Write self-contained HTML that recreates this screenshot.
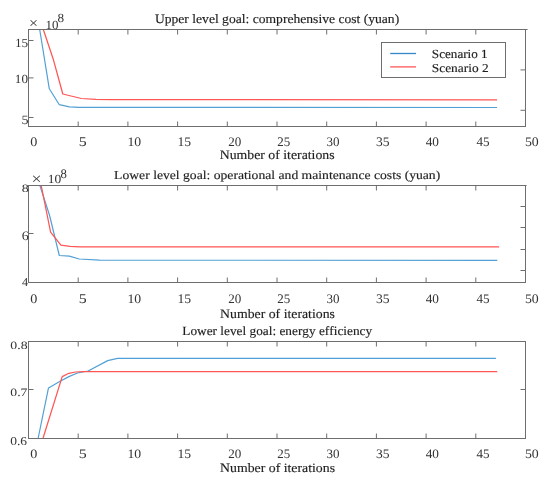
<!DOCTYPE html>
<html><head><meta charset="utf-8"><title>Convergence curves</title>
<style>
html,body{margin:0;padding:0;background:#fff;}
body{width:550px;height:481px;overflow:hidden;}
svg{display:block;}
text{font-family:"Liberation Serif", serif;font-kerning:none;text-rendering:geometricPrecision;}
.t{fill:#1f1f1f;stroke:#1f1f1f;stroke-width:0.15px;}
.n{fill:#333333;}
</style></head>
<body>
<svg width="550" height="481" viewBox="0 0 550 481">
<rect width="550" height="481" fill="#ffffff"/>
<polyline points="39.70,29.50 49.30,88.80 59.30,104.70 69.40,106.80 79.30,107.30 497.10,107.50" fill="none" stroke="#52a0d5" stroke-width="1.2" stroke-linejoin="round"/>
<polyline points="43.30,29.50 53.10,58.70 62.80,94.00 81.30,98.50 96.00,99.30 111.80,99.70 497.10,99.80" fill="none" stroke="#ff5555" stroke-width="1.25" stroke-linejoin="round"/>
<polyline points="39.90,185.50 49.60,215.50 59.30,255.50 69.30,256.20 79.30,259.00 99.60,260.20 497.30,260.30" fill="none" stroke="#52a0d5" stroke-width="1.2" stroke-linejoin="round"/>
<polyline points="41.20,185.50 50.60,232.20 60.90,245.10 69.90,246.40 80.00,246.80 499.10,246.80" fill="none" stroke="#ff5555" stroke-width="1.25" stroke-linejoin="round"/>
<polyline points="38.20,438.00 48.50,387.90 59.70,381.60 68.90,376.60 77.50,373.00 88.10,371.00 107.70,360.60 117.50,358.30 495.90,358.40" fill="none" stroke="#52a0d5" stroke-width="1.2" stroke-linejoin="round"/>
<polyline points="43.10,438.00 62.20,376.60 68.90,373.30 75.50,372.00 83.80,371.60 497.30,371.60" fill="none" stroke="#ff5555" stroke-width="1.25" stroke-linejoin="round"/>
<rect x="28.5" y="29.5" width="497.0" height="97.0" fill="none" stroke="#6e6e6e" stroke-width="1"/>
<line x1="78.2" y1="126.5" x2="78.2" y2="121.5" stroke="#6e6e6e" stroke-width="1"/>
<line x1="78.2" y1="29.5" x2="78.2" y2="34.5" stroke="#6e6e6e" stroke-width="1"/>
<line x1="127.9" y1="126.5" x2="127.9" y2="121.5" stroke="#6e6e6e" stroke-width="1"/>
<line x1="127.9" y1="29.5" x2="127.9" y2="34.5" stroke="#6e6e6e" stroke-width="1"/>
<line x1="177.6" y1="126.5" x2="177.6" y2="121.5" stroke="#6e6e6e" stroke-width="1"/>
<line x1="177.6" y1="29.5" x2="177.6" y2="34.5" stroke="#6e6e6e" stroke-width="1"/>
<line x1="227.3" y1="126.5" x2="227.3" y2="121.5" stroke="#6e6e6e" stroke-width="1"/>
<line x1="227.3" y1="29.5" x2="227.3" y2="34.5" stroke="#6e6e6e" stroke-width="1"/>
<line x1="277.0" y1="126.5" x2="277.0" y2="121.5" stroke="#6e6e6e" stroke-width="1"/>
<line x1="277.0" y1="29.5" x2="277.0" y2="34.5" stroke="#6e6e6e" stroke-width="1"/>
<line x1="326.7" y1="126.5" x2="326.7" y2="121.5" stroke="#6e6e6e" stroke-width="1"/>
<line x1="326.7" y1="29.5" x2="326.7" y2="34.5" stroke="#6e6e6e" stroke-width="1"/>
<line x1="376.4" y1="126.5" x2="376.4" y2="121.5" stroke="#6e6e6e" stroke-width="1"/>
<line x1="376.4" y1="29.5" x2="376.4" y2="34.5" stroke="#6e6e6e" stroke-width="1"/>
<line x1="426.1" y1="126.5" x2="426.1" y2="121.5" stroke="#6e6e6e" stroke-width="1"/>
<line x1="426.1" y1="29.5" x2="426.1" y2="34.5" stroke="#6e6e6e" stroke-width="1"/>
<line x1="475.8" y1="126.5" x2="475.8" y2="121.5" stroke="#6e6e6e" stroke-width="1"/>
<line x1="475.8" y1="29.5" x2="475.8" y2="34.5" stroke="#6e6e6e" stroke-width="1"/>
<line x1="28.5" y1="40.5" x2="33.5" y2="40.5" stroke="#6e6e6e" stroke-width="1"/>
<line x1="28.5" y1="77.9" x2="33.5" y2="77.9" stroke="#6e6e6e" stroke-width="1"/>
<line x1="28.5" y1="117.5" x2="33.5" y2="117.5" stroke="#6e6e6e" stroke-width="1"/>
<line x1="525.5" y1="69.9" x2="520.5" y2="69.9" stroke="#6e6e6e" stroke-width="1"/>
<line x1="525.5" y1="110.3" x2="520.5" y2="110.3" stroke="#6e6e6e" stroke-width="1"/>
<rect x="28.5" y="185.5" width="497.0" height="97.0" fill="none" stroke="#6e6e6e" stroke-width="1"/>
<line x1="78.2" y1="282.5" x2="78.2" y2="277.5" stroke="#6e6e6e" stroke-width="1"/>
<line x1="78.2" y1="185.5" x2="78.2" y2="190.5" stroke="#6e6e6e" stroke-width="1"/>
<line x1="127.9" y1="282.5" x2="127.9" y2="277.5" stroke="#6e6e6e" stroke-width="1"/>
<line x1="127.9" y1="185.5" x2="127.9" y2="190.5" stroke="#6e6e6e" stroke-width="1"/>
<line x1="177.6" y1="282.5" x2="177.6" y2="277.5" stroke="#6e6e6e" stroke-width="1"/>
<line x1="177.6" y1="185.5" x2="177.6" y2="190.5" stroke="#6e6e6e" stroke-width="1"/>
<line x1="227.3" y1="282.5" x2="227.3" y2="277.5" stroke="#6e6e6e" stroke-width="1"/>
<line x1="227.3" y1="185.5" x2="227.3" y2="190.5" stroke="#6e6e6e" stroke-width="1"/>
<line x1="277.0" y1="282.5" x2="277.0" y2="277.5" stroke="#6e6e6e" stroke-width="1"/>
<line x1="277.0" y1="185.5" x2="277.0" y2="190.5" stroke="#6e6e6e" stroke-width="1"/>
<line x1="326.7" y1="282.5" x2="326.7" y2="277.5" stroke="#6e6e6e" stroke-width="1"/>
<line x1="326.7" y1="185.5" x2="326.7" y2="190.5" stroke="#6e6e6e" stroke-width="1"/>
<line x1="376.4" y1="282.5" x2="376.4" y2="277.5" stroke="#6e6e6e" stroke-width="1"/>
<line x1="376.4" y1="185.5" x2="376.4" y2="190.5" stroke="#6e6e6e" stroke-width="1"/>
<line x1="426.1" y1="282.5" x2="426.1" y2="277.5" stroke="#6e6e6e" stroke-width="1"/>
<line x1="426.1" y1="185.5" x2="426.1" y2="190.5" stroke="#6e6e6e" stroke-width="1"/>
<line x1="475.8" y1="282.5" x2="475.8" y2="277.5" stroke="#6e6e6e" stroke-width="1"/>
<line x1="475.8" y1="185.5" x2="475.8" y2="190.5" stroke="#6e6e6e" stroke-width="1"/>
<line x1="28.5" y1="233.5" x2="33.5" y2="233.5" stroke="#6e6e6e" stroke-width="1"/>
<line x1="525.5" y1="206.5" x2="520.5" y2="206.5" stroke="#6e6e6e" stroke-width="1"/>
<line x1="525.5" y1="227.5" x2="520.5" y2="227.5" stroke="#6e6e6e" stroke-width="1"/>
<line x1="525.5" y1="249.5" x2="520.5" y2="249.5" stroke="#6e6e6e" stroke-width="1"/>
<line x1="525.5" y1="270.5" x2="520.5" y2="270.5" stroke="#6e6e6e" stroke-width="1"/>
<rect x="28.5" y="341.5" width="497.0" height="97.0" fill="none" stroke="#6e6e6e" stroke-width="1"/>
<line x1="78.2" y1="438.5" x2="78.2" y2="433.5" stroke="#6e6e6e" stroke-width="1"/>
<line x1="78.2" y1="341.5" x2="78.2" y2="346.5" stroke="#6e6e6e" stroke-width="1"/>
<line x1="127.9" y1="438.5" x2="127.9" y2="433.5" stroke="#6e6e6e" stroke-width="1"/>
<line x1="127.9" y1="341.5" x2="127.9" y2="346.5" stroke="#6e6e6e" stroke-width="1"/>
<line x1="177.6" y1="438.5" x2="177.6" y2="433.5" stroke="#6e6e6e" stroke-width="1"/>
<line x1="177.6" y1="341.5" x2="177.6" y2="346.5" stroke="#6e6e6e" stroke-width="1"/>
<line x1="227.3" y1="438.5" x2="227.3" y2="433.5" stroke="#6e6e6e" stroke-width="1"/>
<line x1="227.3" y1="341.5" x2="227.3" y2="346.5" stroke="#6e6e6e" stroke-width="1"/>
<line x1="277.0" y1="438.5" x2="277.0" y2="433.5" stroke="#6e6e6e" stroke-width="1"/>
<line x1="277.0" y1="341.5" x2="277.0" y2="346.5" stroke="#6e6e6e" stroke-width="1"/>
<line x1="326.7" y1="438.5" x2="326.7" y2="433.5" stroke="#6e6e6e" stroke-width="1"/>
<line x1="326.7" y1="341.5" x2="326.7" y2="346.5" stroke="#6e6e6e" stroke-width="1"/>
<line x1="376.4" y1="438.5" x2="376.4" y2="433.5" stroke="#6e6e6e" stroke-width="1"/>
<line x1="376.4" y1="341.5" x2="376.4" y2="346.5" stroke="#6e6e6e" stroke-width="1"/>
<line x1="426.1" y1="438.5" x2="426.1" y2="433.5" stroke="#6e6e6e" stroke-width="1"/>
<line x1="426.1" y1="341.5" x2="426.1" y2="346.5" stroke="#6e6e6e" stroke-width="1"/>
<line x1="475.8" y1="438.5" x2="475.8" y2="433.5" stroke="#6e6e6e" stroke-width="1"/>
<line x1="475.8" y1="341.5" x2="475.8" y2="346.5" stroke="#6e6e6e" stroke-width="1"/>
<line x1="28.5" y1="389.5" x2="33.5" y2="389.5" stroke="#6e6e6e" stroke-width="1"/>
<line x1="525.5" y1="389.5" x2="520.5" y2="389.5" stroke="#6e6e6e" stroke-width="1"/>
<line x1="525.5" y1="29.5" x2="527.6" y2="29.5" stroke="#6e6e6e" stroke-width="1"/>
<line x1="525.5" y1="185.5" x2="526.6" y2="185.5" stroke="#6e6e6e" stroke-width="1"/>
<text transform="translate(30.70,146.37) scale(1.0856,1)" x="-0.50" y="0" font-size="13.04" class="n">0</text>
<text transform="translate(79.70,146.37) scale(1.1998,1)" x="-0.77" y="0" font-size="13.24" class="n">5</text>
<text transform="translate(128.70,146.37) scale(1.0528,1)" x="-1.15" y="0" font-size="13.04" class="n">10</text>
<text transform="translate(178.60,146.37) scale(1.0376,1)" x="-1.15" y="0" font-size="13.14" class="n">15</text>
<text transform="translate(228.70,146.37) scale(1.0024,1)" x="-0.57" y="0" font-size="13.04" class="n">20</text>
<text transform="translate(277.90,146.37) scale(0.9908,1)" x="-0.58" y="0" font-size="13.10" class="n">25</text>
<text transform="translate(327.00,146.37) scale(0.9983,1)" x="-0.62" y="0" font-size="13.04" class="n">30</text>
<text transform="translate(376.70,146.37) scale(1.0368,1)" x="-0.63" y="0" font-size="13.10" class="n">35</text>
<text transform="translate(425.90,146.37) scale(1.0171,1)" x="-0.25" y="0" font-size="13.04" class="n">40</text>
<text transform="translate(476.70,146.37) scale(0.9917,1)" x="-0.26" y="0" font-size="13.17" class="n">45</text>
<text transform="translate(525.70,146.37) scale(1.0605,1)" x="-0.76" y="0" font-size="13.04" class="n">50</text>
<text transform="translate(30.70,302.77) scale(1.0856,1)" x="-0.50" y="0" font-size="13.04" class="n">0</text>
<text transform="translate(79.70,302.77) scale(1.1998,1)" x="-0.77" y="0" font-size="13.24" class="n">5</text>
<text transform="translate(128.70,302.77) scale(1.0528,1)" x="-1.15" y="0" font-size="13.04" class="n">10</text>
<text transform="translate(178.60,302.77) scale(1.0376,1)" x="-1.15" y="0" font-size="13.14" class="n">15</text>
<text transform="translate(228.70,302.77) scale(1.0024,1)" x="-0.57" y="0" font-size="13.04" class="n">20</text>
<text transform="translate(277.90,302.77) scale(0.9908,1)" x="-0.58" y="0" font-size="13.10" class="n">25</text>
<text transform="translate(327.00,302.77) scale(0.9983,1)" x="-0.62" y="0" font-size="13.04" class="n">30</text>
<text transform="translate(376.70,302.77) scale(1.0368,1)" x="-0.63" y="0" font-size="13.10" class="n">35</text>
<text transform="translate(425.90,302.77) scale(1.0171,1)" x="-0.25" y="0" font-size="13.04" class="n">40</text>
<text transform="translate(476.70,302.77) scale(0.9917,1)" x="-0.26" y="0" font-size="13.17" class="n">45</text>
<text transform="translate(525.70,302.77) scale(1.0605,1)" x="-0.76" y="0" font-size="13.04" class="n">50</text>
<text transform="translate(30.70,458.17) scale(1.0980,1)" x="-0.49" y="0" font-size="12.89" class="n">0</text>
<text transform="translate(79.70,458.17) scale(1.2136,1)" x="-0.76" y="0" font-size="13.09" class="n">5</text>
<text transform="translate(128.70,458.17) scale(1.0649,1)" x="-1.13" y="0" font-size="12.89" class="n">10</text>
<text transform="translate(178.60,458.17) scale(1.0496,1)" x="-1.14" y="0" font-size="12.99" class="n">15</text>
<text transform="translate(228.70,458.17) scale(1.0139,1)" x="-0.57" y="0" font-size="12.89" class="n">20</text>
<text transform="translate(277.90,458.17) scale(1.0022,1)" x="-0.57" y="0" font-size="12.95" class="n">25</text>
<text transform="translate(327.00,458.17) scale(1.0098,1)" x="-0.62" y="0" font-size="12.89" class="n">30</text>
<text transform="translate(376.70,458.17) scale(1.0488,1)" x="-0.62" y="0" font-size="12.95" class="n">35</text>
<text transform="translate(425.90,458.17) scale(1.0288,1)" x="-0.25" y="0" font-size="12.89" class="n">40</text>
<text transform="translate(476.70,458.17) scale(1.0031,1)" x="-0.25" y="0" font-size="13.02" class="n">45</text>
<text transform="translate(525.70,458.17) scale(1.0727,1)" x="-0.75" y="0" font-size="12.89" class="n">50</text>
<text transform="translate(16.10,46.98) scale(1.0724,1)" x="-1.09" y="0" font-size="12.39" class="n">15</text>
<text transform="translate(16.00,82.68) scale(1.0570,1)" x="-1.09" y="0" font-size="12.45" class="n">10</text>
<text transform="translate(22.30,123.98) scale(1.1063,1)" x="-0.74" y="0" font-size="12.79" class="n">5</text>
<text transform="translate(22.30,191.59) scale(1.2570,1)" x="-0.43" y="0" font-size="11.26" class="n">8</text>
<text transform="translate(22.40,239.57) scale(1.0845,1)" x="-0.56" y="0" font-size="12.95" class="n">6</text>
<text transform="translate(22.10,285.90) scale(1.0216,1)" x="-0.23" y="0" font-size="12.00" class="n">4</text>
<text transform="translate(10.80,348.64) scale(1.2174,1)" x="-0.43" y="0" font-size="11.34" class="n">0.8</text>
<text transform="translate(10.80,396.34) scale(1.2078,1)" x="-0.43" y="0" font-size="11.34" class="n">0.7</text>
<text transform="translate(10.70,445.43) scale(1.1349,1)" x="-0.45" y="0" font-size="11.93" class="n">0.6</text>
<text transform="translate(155.20,22.80) scale(1.0599,1)" x="-0.27" y="0" font-size="12.83" class="t">Upper level goal: comprehensive cost (yuan)</text>
<text transform="translate(114.50,178.50) scale(1.1164,1)" x="-0.35" y="0" font-size="12.22" class="t">Lower level goal: operational and maintenance costs (yuan)</text>
<text transform="translate(182.70,335.00) scale(1.0494,1)" x="-0.37" y="0" font-size="12.68" class="t">Lower level goal: energy efficiency</text>
<text transform="translate(220.10,158.60) scale(1.0633,1)" x="-0.37" y="0" font-size="12.98" class="t">Number of iterations</text>
<text transform="translate(220.50,317.80) scale(1.0624,1)" x="-0.37" y="0" font-size="12.98" class="t">Number of iterations</text>
<text transform="translate(220.50,472.00) scale(1.0750,1)" x="-0.37" y="0" font-size="12.83" class="t">Number of iterations</text>
<text transform="translate(46.60,28.58) scale(1.0386,1)" x="-1.09" y="0" font-size="12.45" class="n">10</text>
<text transform="translate(58.00,22.08) scale(1.0614,1)" x="-0.47" y="0" font-size="12.45" class="n">8</text>
<text transform="translate(48.90,183.08) scale(1.0846,1)" x="-1.09" y="0" font-size="12.45" class="n">10</text>
<text transform="translate(61.10,178.07) scale(0.9770,1)" x="-0.50" y="0" font-size="13.04" class="n">8</text>
<text transform="translate(30.20,27.93) scale(1.0669,1)" x="-1.18" y="0" font-size="14.98" class="n">×</text>
<text transform="translate(32.90,184.46) scale(1.1090,1)" x="-1.26" y="0" font-size="15.96" class="n">×</text>
<rect x="381.5" y="42.5" width="124" height="35" fill="#ffffff" stroke="#6e6e6e" stroke-width="1"/>
<line x1="390.2" y1="53.5" x2="416" y2="53.5" stroke="#3388cc" stroke-width="1.3"/>
<line x1="390.2" y1="66.9" x2="416" y2="66.9" stroke="#ff4040" stroke-width="1.15"/>
<text transform="translate(432.70,57.60) scale(1.0490,1)" x="-0.84" y="0" font-size="12.54" class="t">Scenario 1</text>
<text transform="translate(432.70,71.80) scale(1.1071,1)" x="-0.81" y="0" font-size="12.08" class="t">Scenario 2</text>
</svg>
</body></html>
